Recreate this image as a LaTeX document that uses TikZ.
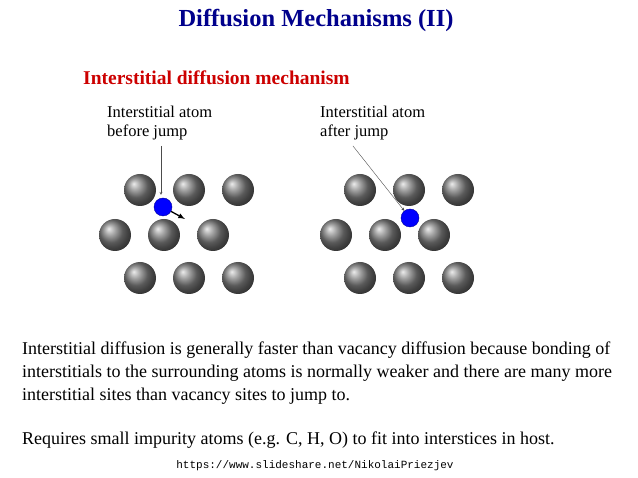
\documentclass[tikz,border=0pt]{standalone}
\usepackage{fontspec}
\setmainfont{Liberation Serif}
\setmonofont{Liberation Mono}
\begin{document}
\begin{tikzpicture}[x=1pt,y=-1pt,
 atom/.style={circle,minimum size=32pt,inner sep=0,shading=ball,ball color=black!50},
 inter/.style={circle,minimum size=18pt,inner sep=0,fill=blue,draw=blue!60!black},
 lbl/.style={anchor=north west,align=left,font=\fontsize{16.5}{19}\selectfont,inner sep=0},
 body/.style={anchor=west,inner sep=0,font=\fontsize{18}{20}\selectfont}]
\useasboundingbox (0,0) rectangle (638,478);
\node[font=\bfseries\fontsize{24.5}{28}\selectfont,text=blue!55!black] (title) at (316,20) {Diffusion Mechanisms (II)};
\node[anchor=west,inner sep=0,font=\bfseries\fontsize{19.5}{22}\selectfont,text=red!80!black] (sub) at (83,78) {Interstitial diffusion mechanism};
\foreach \x [count=\i] in {140,189,238}{\node[atom] (a1\i) at (\x,190){};\node[atom] (a3\i) at (\x,278){};}
\foreach \x [count=\i] in {115,164,213}{\node[atom] (a2\i) at (\x,235){};}
\foreach \x [count=\i] in {360,409,458}{\node[atom] (b1\i) at (\x,190){};\node[atom] (b3\i) at (\x,278){};}
\foreach \x [count=\i] in {336,385,434}{\node[atom] (b2\i) at (\x,235){};}
\node[inter] (ia) at (163,207){};
\node[inter] (ib) at (410,218){};
\coordinate (jump) at (185,219);
\draw[line width=1.3pt,-latex] (ia) -- (jump);
\node[lbl] (la) at (107,106) {Interstitial atom\\before jump};
\node[lbl] (lb) at (320,106) {Interstitial atom\\after jump};
\coordinate (sa) at (161,146);
\coordinate (sb) at (353,146);
\coordinate (ta) at (161,195);
\draw[-stealth,black!70] (sa) -- (ta);
\draw[-stealth,black!70] (sb) -- (ib);
\node[body] (p1) at (22,350) {Interstitial diffusion is generally faster than vacancy diffusion because bonding of};
\node[body] (p2) at (22,373) {interstitials to the surrounding atoms is normally weaker and there are many more};
\node[body] (p3) at (22,396) {interstitial sites than vacancy sites to jump to.};
\node[body] (p4) at (22,440) {Requires small impurity atoms (e.g. C, H, O) to fit into interstices in host.};
\node[font=\ttfamily\fontsize{11}{13}\selectfont] (url) at (315,466) {https://www.slideshare.net/NikolaiPriezjev};
\end{tikzpicture}
\end{document}
